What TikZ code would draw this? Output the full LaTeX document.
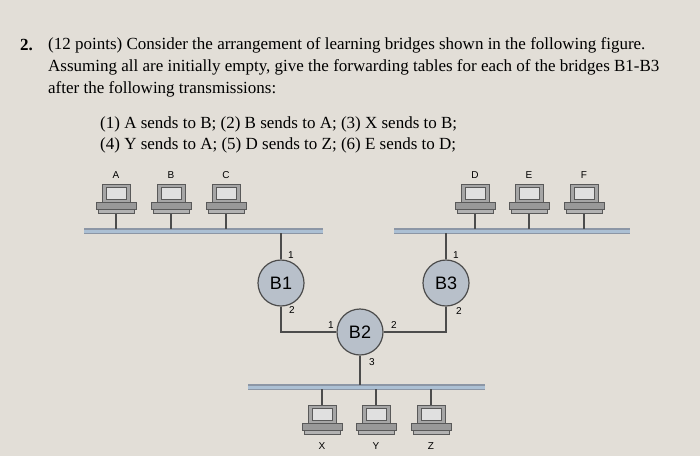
\documentclass[tikz,border=0pt]{standalone}
\usepackage{fontspec}
\setmainfont{Liberation Serif}
\setsansfont{Liberation Sans}
\definecolor{paper}{RGB}{226,222,215}
\definecolor{busedge}{RGB}{140,150,165}
\definecolor{businn}{RGB}{172,192,212}
\definecolor{bfill}{RGB}{184,192,202}
\begin{document}
\begin{tikzpicture}[x=1pt,y=-1pt,
  bus/.style={draw=busedge, line width=6pt},
  businner/.style={draw=businn, line width=3pt},
  wire/.style={draw=black!70, line width=1.2pt},
  bridge/.style={circle, draw=black!70, line width=1.2pt, fill=bfill, minimum size=46pt, inner sep=0pt, font=\sffamily\fontsize{18}{18}\selectfont},
  port/.style={font=\sffamily\fontsize{10}{10}\selectfont, inner sep=1pt},
  hlab/.style={font=\sffamily\fontsize{10}{10}\selectfont, inner sep=0pt},
  txt/.style={anchor=west, inner sep=0pt, font=\fontsize{17}{17}\selectfont},
  pc/.pic={
    \draw[black!65, line width=1pt, fill=black!35] (-14,0) rectangle (14,18);
    \draw[black!65, line width=0.8pt, fill=black!12] (-10,3) rectangle (10,15);
    \draw[black!65, line width=1pt, fill=black!40] (-20,18) rectangle (20,25);
    \draw[black!65, line width=1pt, fill=black!30] (-18,25) rectangle (18,29);
  }]
\fill[paper] (0,0) rectangle (700,456);
\useasboundingbox (0,0) rectangle (700,456);
% text
\node[txt] (n2) at (20,45) {\textbf{2.}};
\node[txt] (l1) at (48,45) {(12 points) Consider the arrangement of learning bridges shown in the following figure.};
\node[txt] (l2) at (48,67) {Assuming all are initially empty, give the forwarding tables for each of the bridges B1-B3};
\node[txt] (l3) at (48,89) {after the following transmissions:};
\node[txt] (l4) at (100,124) {(1) A sends to B; (2) B sends to A; (3) X sends to B;};
\node[txt] (l5) at (100,145) {(4) Y sends to A; (5) D sends to Z; (6) E sends to D;};
% buses
\coordinate (L1) at (84,231); \coordinate (L2) at (323,231);
\coordinate (R1) at (394,231); \coordinate (R2) at (630,231);
\coordinate (M1) at (248,387); \coordinate (M2) at (485,387);
\foreach \a/\b in {L1/L2,R1/R2,M1/M2}{\draw[bus] (\a)--(\b); \draw[businner] (\a)--(\b);}
% computers top
\foreach \n/\x in {A/116,B/171,C/226,D/475,E/529,F/584}{
  \draw[wire] (\x,213)--(\x,229);
  \pic at (\x,184) {pc};
  \node[hlab] (h\n) at (\x,175) {\n};
}
% computers bottom
\foreach \n/\x in {X/322,Y/376,Z/431}{
  \draw[wire] (\x,389)--(\x,405);
  \pic at (\x,405) {pc};
  \node[hlab] (h\n) at (\x,446) {\n};
}
% bridges
\node[bridge] (B1) at (281,283) {B1};
\node[bridge] (B3) at (446,283) {B3};
\node[bridge] (B2) at (360,332) {B2};
\draw[wire] (B1.north) -- (281,233);
\draw[wire] (B3.north) -- (446,233);
\draw[wire] (B1.south) |- (B2.west);
\draw[wire] (B3.south) |- (B2.east);
\draw[wire] (B2.south) -- (360,385);
\node[port] at (291,255) {1};
\node[port] at (292,310) {2};
\node[port] at (456,255) {1};
\node[port] at (459,311) {2};
\node[port] at (331,325) {1};
\node[port] at (394,325) {2};
\node[port] at (372,362) {3};
\end{tikzpicture}
\end{document}
